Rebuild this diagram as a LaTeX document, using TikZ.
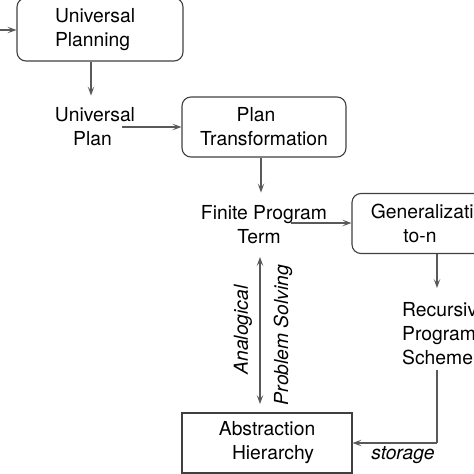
\documentclass[tikz,border=0pt]{standalone}
\usepackage{fontspec}
\setmainfont{TeX Gyre Heros}
\usetikzlibrary{arrows.meta}
\begin{document}
\begin{tikzpicture}[x=1pt,y=-1pt,
  every node/.style={font=\fontsize{19.3}{24}\selectfont, align=center, inner sep=0pt, text=black},
  rbox/.style={draw=black!75, line width=1.1pt, rounded corners=9pt},
  sbox/.style={draw=black!75, line width=1.1pt},
  arr/.style={draw=black!65, line width=1.1pt, -{Stealth[length=9pt,width=6.5pt,inset=4pt]}},
  darr/.style={draw=black!65, line width=1.1pt, {Stealth[length=9pt,width=6.5pt,inset=4pt]}-{Stealth[length=9pt,width=6.5pt,inset=4pt]}},
  lin/.style={draw=black!65, line width=1.1pt}]
\useasboundingbox (0,0) rectangle (474,474);
\clip (0,0) rectangle (474,474);
\node[rbox, minimum width=166pt, minimum height=63pt, text width=90pt, align=left] (UP) at (100,29.5) {Universal\\Planning};
\node (UPlan) at (95,127) {Universal\\Plan\hspace*{5pt}};
\node[rbox, minimum width=164pt, minimum height=60pt] (PT) at (264,127) {Plan\hspace*{16pt}\\Transformation};
\node (FPT) at (264,225) {Finite Program\\Term\hspace*{10pt}};
\node[rbox, minimum width=162pt, minimum height=60pt] (GEN) at (433,223.5) {Generalization\\to-n\hspace*{26pt}};
\node[align=left, anchor=west] (RPS) at (402,334) {Recursive\\Program\\Scheme};
\node[sbox, minimum width=170pt, minimum height=60pt] (AH) at (267,443) {Abstraction\\\hspace*{12pt}Hierarchy};
\node[font=\fontsize{19.3}{24}\selectfont\itshape] (ST) at (403,455) {storage};
\node[font=\fontsize{19.3}{24}\selectfont\itshape, rotate=90] (AN) at (243,330) {Analogical};
\node[font=\fontsize{19.3}{24}\selectfont\itshape, rotate=90] (PS) at (283,335) {Problem Solving};
\coordinate (in) at (-5,30);
\draw[arr] (in) -- (UP.west |- in);
\draw[arr] ([xshift=-9pt]UP.south) -- ++(0,34);
\draw[arr] ([xshift=27pt]UPlan.center) -- (PT.west);
\draw[arr] ([xshift=-3pt]PT.south) -- ++(0,35);
\coordinate (f1) at (291,223);
\draw[arr] (f1) -- (GEN.west |- f1);
\draw[arr] ([xshift=4pt]GEN.south) -- ++(0,34);
\coordinate (c1) at (437,370);
\coordinate (c2) at (437,443);
\draw[lin] (c1) -- (c2);
\draw[arr] (c2) -- (AH.east |- c2);
\coordinate (d1) at (260,257);
\coordinate (d2) at (260,404);
\draw[darr] (d1) -- (d2);
\end{tikzpicture}
\end{document}
